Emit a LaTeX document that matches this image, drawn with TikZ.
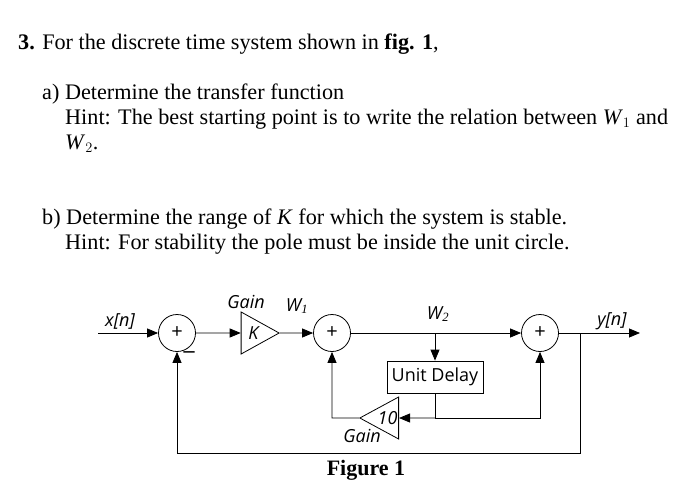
\documentclass[tikz,border=0pt]{standalone}
\usepackage{fontspec}
\setmainfont{Liberation Serif}
\newfontfamily\diagfont{Open Sans}
\usetikzlibrary{arrows.meta,shapes.geometric}
\begin{document}
\begin{tikzpicture}[x=1pt,y=-1pt,
  txt/.style={anchor=base west,inner sep=0,font=\fontsize{22.2}{24}\selectfont},
  sum/.style={circle,draw,thick,minimum size=37pt,inner sep=0,font=\diagfont\fontsize{20}{22}\selectfont},
  gain/.style={isosceles triangle,draw,thick,inner sep=0pt,minimum height=38pt,minimum width=42pt,isosceles triangle stretches,font=\diagfont\itshape\fontsize{18}{20}\selectfont},
  lbl/.style={font=\diagfont\itshape\fontsize{18}{20}\selectfont,inner sep=0},
  sig/.style={thick,-{Triangle[length=11pt,width=9pt]}},
  wire/.style={thick}]
\useasboundingbox (0,0) rectangle (700,487);
% question text
\node[txt] (q0) at (18,49) {\textbf{3.} For the discrete time system shown in \textbf{fig. 1},};
\node[txt] (qa) at (42,99) {a) Determine the transfer function};
\node[txt] (qa1) at (65,124) {Hint: The best starting point is to write the relation between \textit{W}$_1$ and};
\node[txt] (qa2) at (65,149) {\textit{W}$_2$.};
\node[txt] (qb) at (42,224) {b) Determine the range of \textit{K} for which the system is stable.};
\node[txt] (qb1) at (65,249) {Hint: For stability the pole must be inside the unit circle.};
% diagram
\coordinate (in) at (98,333);
\node[sum] (s1) at (177,333) {+};
\node[gain] (k) at (252,333) {\,K};
\node[sum] (s2) at (332,333) {+};
\node[sum] (s3) at (540,333) {+};
\coordinate (b2) at (435,333);
\coordinate (by) at (580,333);
\coordinate (out) at (640,333);
\node[draw,thick,minimum width=96pt,minimum height=32pt,font=\diagfont\fontsize{18}{20}\selectfont] (ud) at (435,377) {Unit Delay};
\coordinate (bd) at (435,418);
\node[gain,shape border rotate=180] (g10) at (386,418) {\,10};
\coordinate (c2) at (332,418);
\coordinate (c3) at (540,418);
\coordinate (f1) at (177,453);
\coordinate (fy) at (580,453);
\draw[sig] (in) -- (s1);
\draw[sig] (s1) -- (k);
\draw[sig] (k) -- (s2);
\draw[sig] (s2) -- (s3);
\draw[sig] (b2) -- (ud);
\draw[wire] (ud) -- (bd);
\draw[sig] (bd) -- (g10);
\draw[sig] (bd) -- (c3) -- (s3);
\draw[sig] (g10) -- (c2) -- (s2);
\draw[sig] (s3) -- (out);
\draw[sig] (by) -- (fy) -- (f1) -- (s1);
\node[lbl] (xn) at (120,321) {x[n]};
\node[lbl] (yn) at (612,321) {y[n]};
\node[lbl] (gk) at (246,302) {Gain};
\node[lbl] (w1) at (297,306) {W$_{\mathit 1}$};
\node[lbl] (w2) at (438,314) {W$_{\mathit 2}$};
\node[lbl] (g2) at (362,436) {Gain};
\node[font=\bfseries\fontsize{22}{24}\selectfont,inner sep=0] (fig) at (366,470) {Figure 1};
\node[font=\fontsize{22}{22}\selectfont\bfseries,inner sep=0] (minus) at (189,355) {--};
\end{tikzpicture}
\end{document}
